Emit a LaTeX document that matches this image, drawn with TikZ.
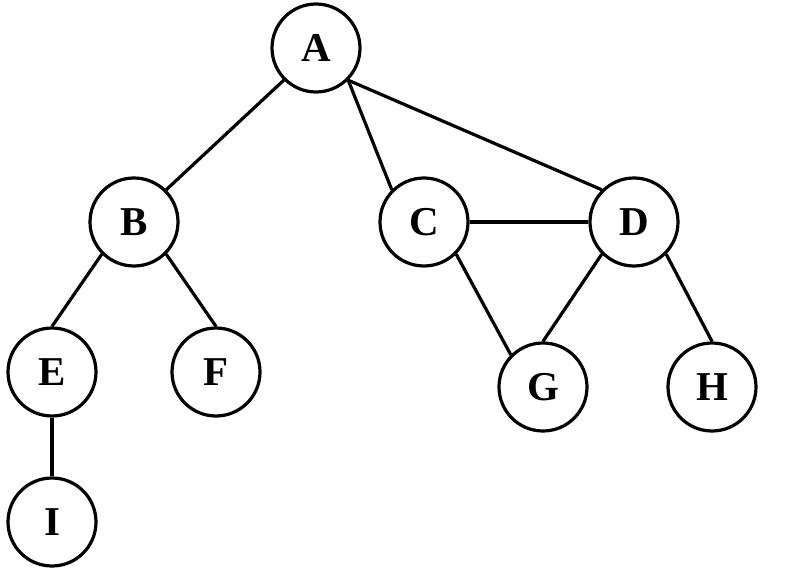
\documentclass[tikz,border=0pt]{standalone}
\usepackage{fontspec}
\setmainfont{Liberation Serif}
\begin{document}
\begin{tikzpicture}[x=1pt,y=-1pt,
  vtx/.style={circle,draw,line width=3.2pt,minimum size=88pt,inner sep=0pt,font=\fontsize{41}{41}\selectfont\bfseries},
  edge/.style={line width=3.2pt}]
\useasboundingbox (0,0) rectangle (792,580);
\node[vtx] (A) at (316,48) {A};
\node[vtx] (B) at (134,222) {B};
\node[vtx] (C) at (424,222) {C};
\node[vtx] (D) at (634,222) {D};
\node[vtx] (E) at (52,372) {E};
\node[vtx] (F) at (216,372) {F};
\node[vtx] (G) at (543,387) {G};
\node[vtx] (H) at (712,387) {H};
\node[vtx] (I) at (52,522) {I};
\draw[edge] (A.south west) -- (B.north east);
\draw[edge] (A.south east) -- (C.north west);
\draw[edge] (A.south east) -- (D.north west);
\draw[edge] (B.south west) -- (E.north);
\draw[edge] (B.south east) -- (F.north);
\draw[edge] (C) -- (D);
\draw[edge] (C.south east) -- (G.north west);
\draw[edge] (D.south west) -- (G.north);
\draw[edge] (D.south east) -- (H.north);
\draw[edge] (E) -- (I);
\end{tikzpicture}
\end{document}
